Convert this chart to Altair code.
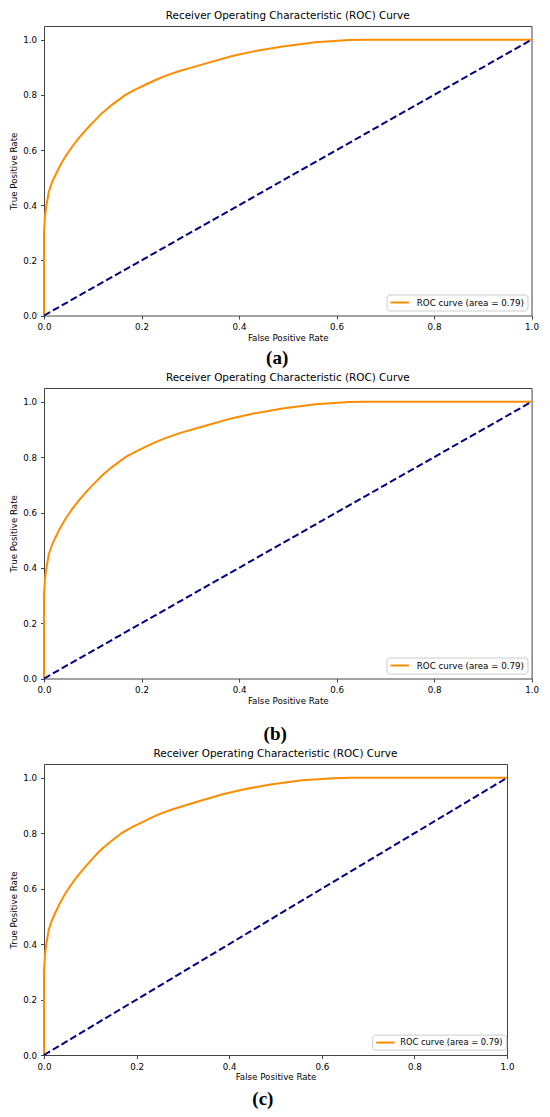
import altair as alt
import pandas as pd

# ---- data ----
fpr = [0.0, 0.0, 0.002, 0.005, 0.010, 0.017, 0.025, 0.034, 0.045, 0.058, 0.072,
       0.089, 0.104, 0.119, 0.140, 0.167, 0.190, 0.208, 0.230, 0.249, 0.275,
       0.304, 0.340, 0.386, 0.430, 0.489, 0.557, 0.625, 0.660, 1.0]
tpr = [0.0, 0.30, 0.36, 0.40, 0.45, 0.486, 0.515, 0.547, 0.580, 0.613, 0.645,
       0.679, 0.707, 0.734, 0.765, 0.800, 0.822, 0.837, 0.855, 0.869, 0.885,
       0.900, 0.918, 0.941, 0.958, 0.976, 0.991, 0.999, 1.0, 1.0]
diag_x = [0.0, 1.0]
diag_y = [0.0, 1.0]
tick_vals = [0.0, 0.2, 0.4, 0.6, 0.8, 1.0]
title_text = "Receiver Operating Characteristic (ROC) Curve"
legend_label = "ROC curve (area = 0.79)"
captions = ["(a)", "(b)", "(c)"]

FONT = "DejaVu Sans"
FS_SMALL = 8.7
FS_TITLE = 10.4
FRAME = "#444444"

roc_df = pd.DataFrame({"fpr": fpr, "tpr": tpr, "idx": list(range(len(fpr))),
                       "series": [legend_label] * len(fpr)})
diag_df = pd.DataFrame({"fpr": diag_x, "tpr": diag_y})


def panel(w, h, caption, cap_x, cap_y, leg_x, leg_y, leg_fs, leg_off):
    xscale = alt.Scale(domain=[0, 1], nice=False, zero=False)
    yscale = alt.Scale(domain=[0, 1.05], nice=False, zero=False)
    xaxis = alt.Axis(values=tick_vals, format=".1f", grid=False, domain=False,
                     tickSize=3.5, tickColor=FRAME, labelPadding=3.5,
                     labelFont=FONT, labelFontSize=FS_SMALL, labelColor="black",
                     titleFont=FONT, titleFontSize=FS_SMALL, titleFontWeight="normal",
                     titleColor="black", titlePadding=2, labelFlush=False)
    yaxis = alt.Axis(values=tick_vals, format=".1f", grid=False, domain=False,
                     tickSize=3.5, tickColor=FRAME, labelPadding=4,
                     labelFont=FONT, labelFontSize=FS_SMALL, labelColor="black",
                     titleFont=FONT, titleFontSize=FS_SMALL, titleFontWeight="normal",
                     titleColor="black", titlePadding=4.5, labelFlush=False)
    roc = alt.Chart(roc_df).mark_line(strokeWidth=2).encode(
        x=alt.X("fpr:Q", scale=xscale, axis=xaxis, title="False Positive Rate"),
        y=alt.Y("tpr:Q", scale=yscale, axis=yaxis, title="True Positive Rate"),
        order=alt.Order("idx:Q"),
        color=alt.Color("series:N",
                        scale=alt.Scale(domain=[legend_label], range=["#ff8c00"]),
                        legend=alt.Legend(title=None, orient="none",
                                          legendX=leg_x, legendY=leg_y,
                                          symbolType="M-1,0H3.6", symbolSize=64,
                                          symbolStrokeWidth=2, labelOffset=leg_off,
                                          labelFont=FONT, labelFontSize=leg_fs,
                                          labelColor="black", padding=3,
                                          fillColor="white", strokeColor="#cccccc",
                                          cornerRadius=3)),
    )
    diag = alt.Chart(diag_df).mark_line(strokeWidth=2, strokeDash=[7, 3.2],
                                        color="#000080").encode(
        x=alt.X("fpr:Q", scale=xscale),
        y=alt.Y("tpr:Q", scale=yscale),
    )
    cap = alt.Chart(pd.DataFrame({"cap": [caption]})).mark_text(
        font="Liberation Serif", fontWeight="bold", fontSize=19,
        align="center", baseline="alphabetic", color="black").encode(
        text="cap:N", x=alt.value(cap_x), y=alt.value(cap_y))
    return alt.layer(roc, diag, cap).properties(
        width=w, height=h,
        title=alt.Title(title_text, font=FONT, fontSize=FS_TITLE,
                        fontWeight="normal", color="black", anchor="middle",
                        baseline="alphabetic", offset=-3.7))


def spacer(h):
    return alt.Chart(pd.DataFrame({"s": [0]})).mark_point(opacity=0).encode(
        x=alt.value(0), y=alt.value(0)).properties(
        width=10, height=h, view=alt.ViewBackground(stroke="transparent"))


pa = panel(487.5, 289.5, captions[0], 233.2, 337.5, 342.5, 268.5, FS_SMALL, 17.3)
pb = panel(487.6, 290.5, captions[1], 231.2, 351.5, 342.5, 269.5, FS_SMALL, 17.3)
pc = panel(463.0, 291.0, captions[2], 218.9, 340.6, 328.2, 270.6, 8.3, 15.0)

chart = alt.vconcat(pa, spacer(64.0), pb, spacer(77.0), pc,
                    spacing=4, bounds="flush").resolve_scale(
    color="independent").resolve_legend(color="independent").properties(
    padding={"left": 0, "top": 2, "right": 0, "bottom": 0},
    background="white",
).configure_view(stroke=FRAME, strokeWidth=1)

chart.save("out.html", embed_options={"renderer": "svg", "actions": False})
